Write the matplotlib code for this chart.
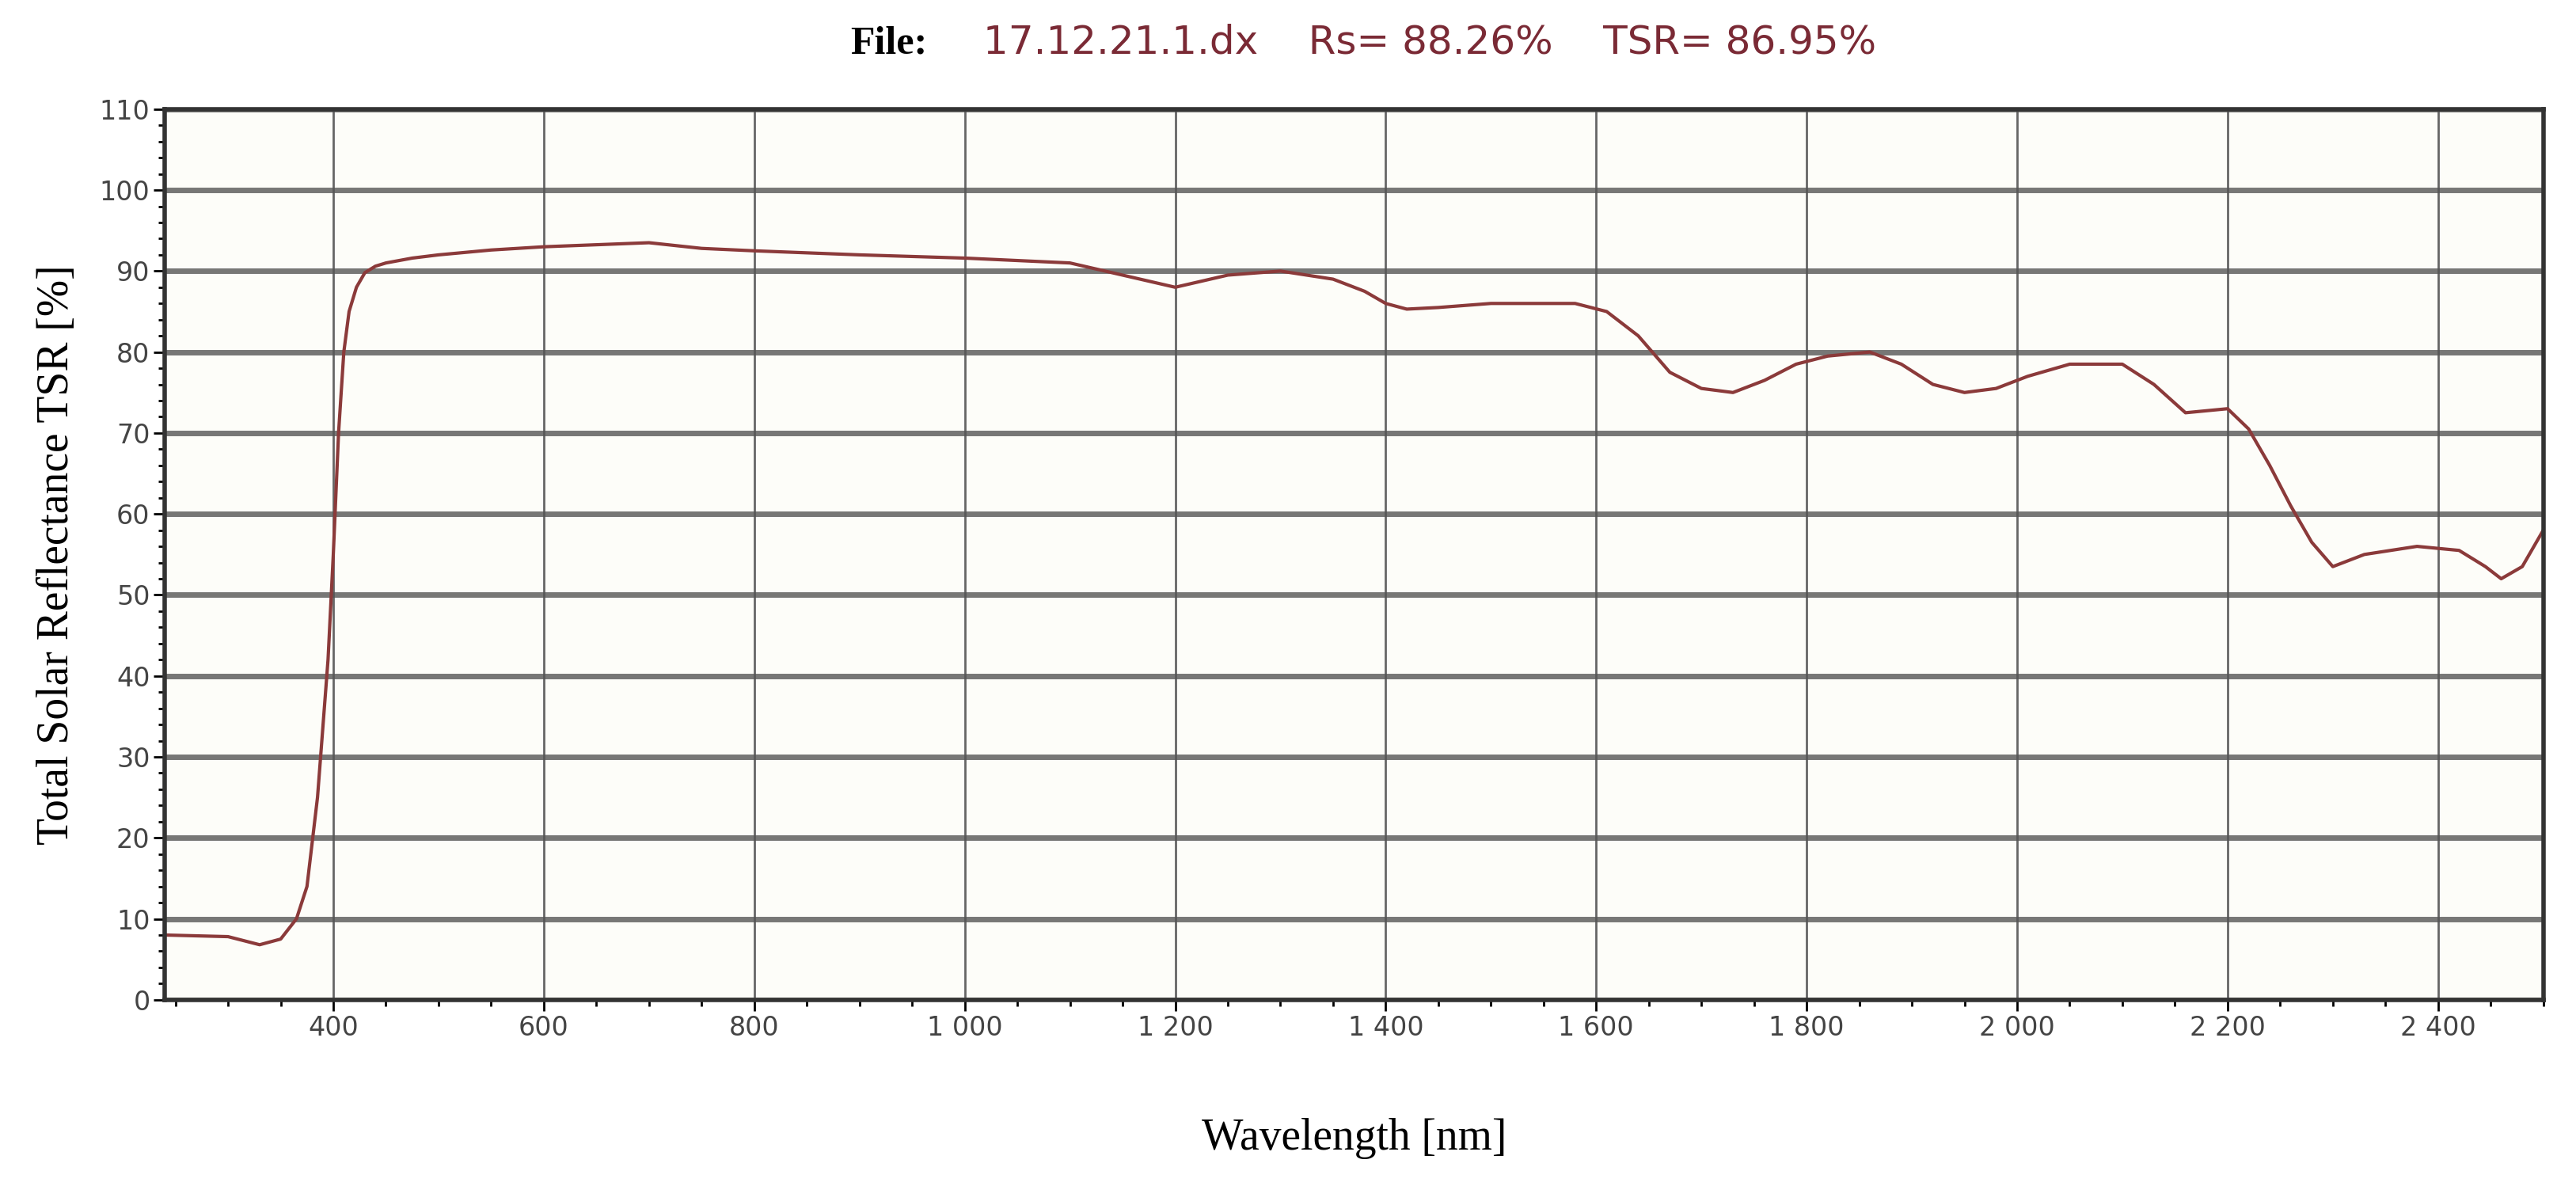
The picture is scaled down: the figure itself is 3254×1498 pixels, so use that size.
import numpy as np
import matplotlib.pyplot as plt

# spectrum
wavelength = [240, 300, 330, 350, 365, 375, 385, 395, 400, 405, 410, 415, 422, 430, 440, 450, 475, 500,
              550, 600, 700, 750, 800, 900, 1000, 1100, 1150, 1200, 1250, 1300, 1350, 1380, 1400, 1420,
              1450, 1500, 1580, 1610, 1640, 1670, 1700, 1730, 1760, 1790, 1820, 1860, 1890, 1920, 1950,
              1980, 2010, 2050, 2100, 2130, 2160, 2200, 2220, 2240, 2260, 2280, 2300, 2330, 2380, 2420,
              2445, 2460, 2480, 2500]
tsr = [8, 7.8, 6.8, 7.5, 10, 14, 25, 42, 55, 70, 80, 85, 88, 89.8, 90.6, 91, 91.6, 92,
       92.6, 93, 93.5, 92.8, 92.5, 92, 91.6, 91, 89.5, 88, 89.5, 90, 89, 87.5, 86, 85.3,
       85.5, 86, 86, 85, 82, 77.5, 75.5, 75, 76.5, 78.5, 79.5, 80, 78.5, 76, 75,
       75.5, 77, 78.5, 78.5, 76, 72.5, 73, 70.5, 66, 61, 56.5, 53.5, 55, 56, 55.5,
       53.5, 52, 53.5, 58]
xticks = [400, 600, 800, 1000, 1200, 1400, 1600, 1800, 2000, 2200, 2400]
xtick_labels = ['400', '600', '800', '1 000', '1 200', '1 400', '1 600', '1 800', '2 000', '2 200', '2 400']
yticks = list(range(0, 111, 10))

fig = plt.figure(figsize=(32.55, 14.98), dpi=100)
ax = fig.add_axes([0.064, 0.157, 0.923, 0.751])
ax.set_facecolor('#fdfdf9')

ax.plot(wavelength, tsr, color='#8b3a3a', lw=3)

ax.set_xlim(240, 2500)
ax.set_ylim(0, 110)
ax.set_xticks(xticks)
ax.set_xticklabels(xtick_labels, fontsize=24, color='#444444')
ax.set_yticks(yticks)
ax.set_yticklabels([str(v) for v in yticks], fontsize=24, color='#444444')
ax.minorticks_on()
ax.tick_params(which='minor', length=6, width=2)
ax.tick_params(which='major', length=10, width=2)

ax.yaxis.grid(True, color='#555555', lw=5, alpha=0.8)
ax.xaxis.grid(True, color='#666666', lw=2)
for s in ax.spines.values():
    s.set_linewidth(4)
    s.set_color('#333333')

ax.set_xlabel('Wavelength [nm]', fontsize=40, family='Liberation Serif', labelpad=70)
ax.set_ylabel('Total Solar Reflectance TSR [%]', fontsize=40, family='Liberation Serif', labelpad=20)

fig.text(0.345, 0.955, 'File:', fontsize=36, weight='bold', family='Liberation Serif', ha='center')
fig.text(0.555, 0.955, '17.12.21.1.dx    Rs= 88.26%    TSR= 86.95%', fontsize=36,
         color='#7a2a35', ha='center')

fig.savefig('out.png')
